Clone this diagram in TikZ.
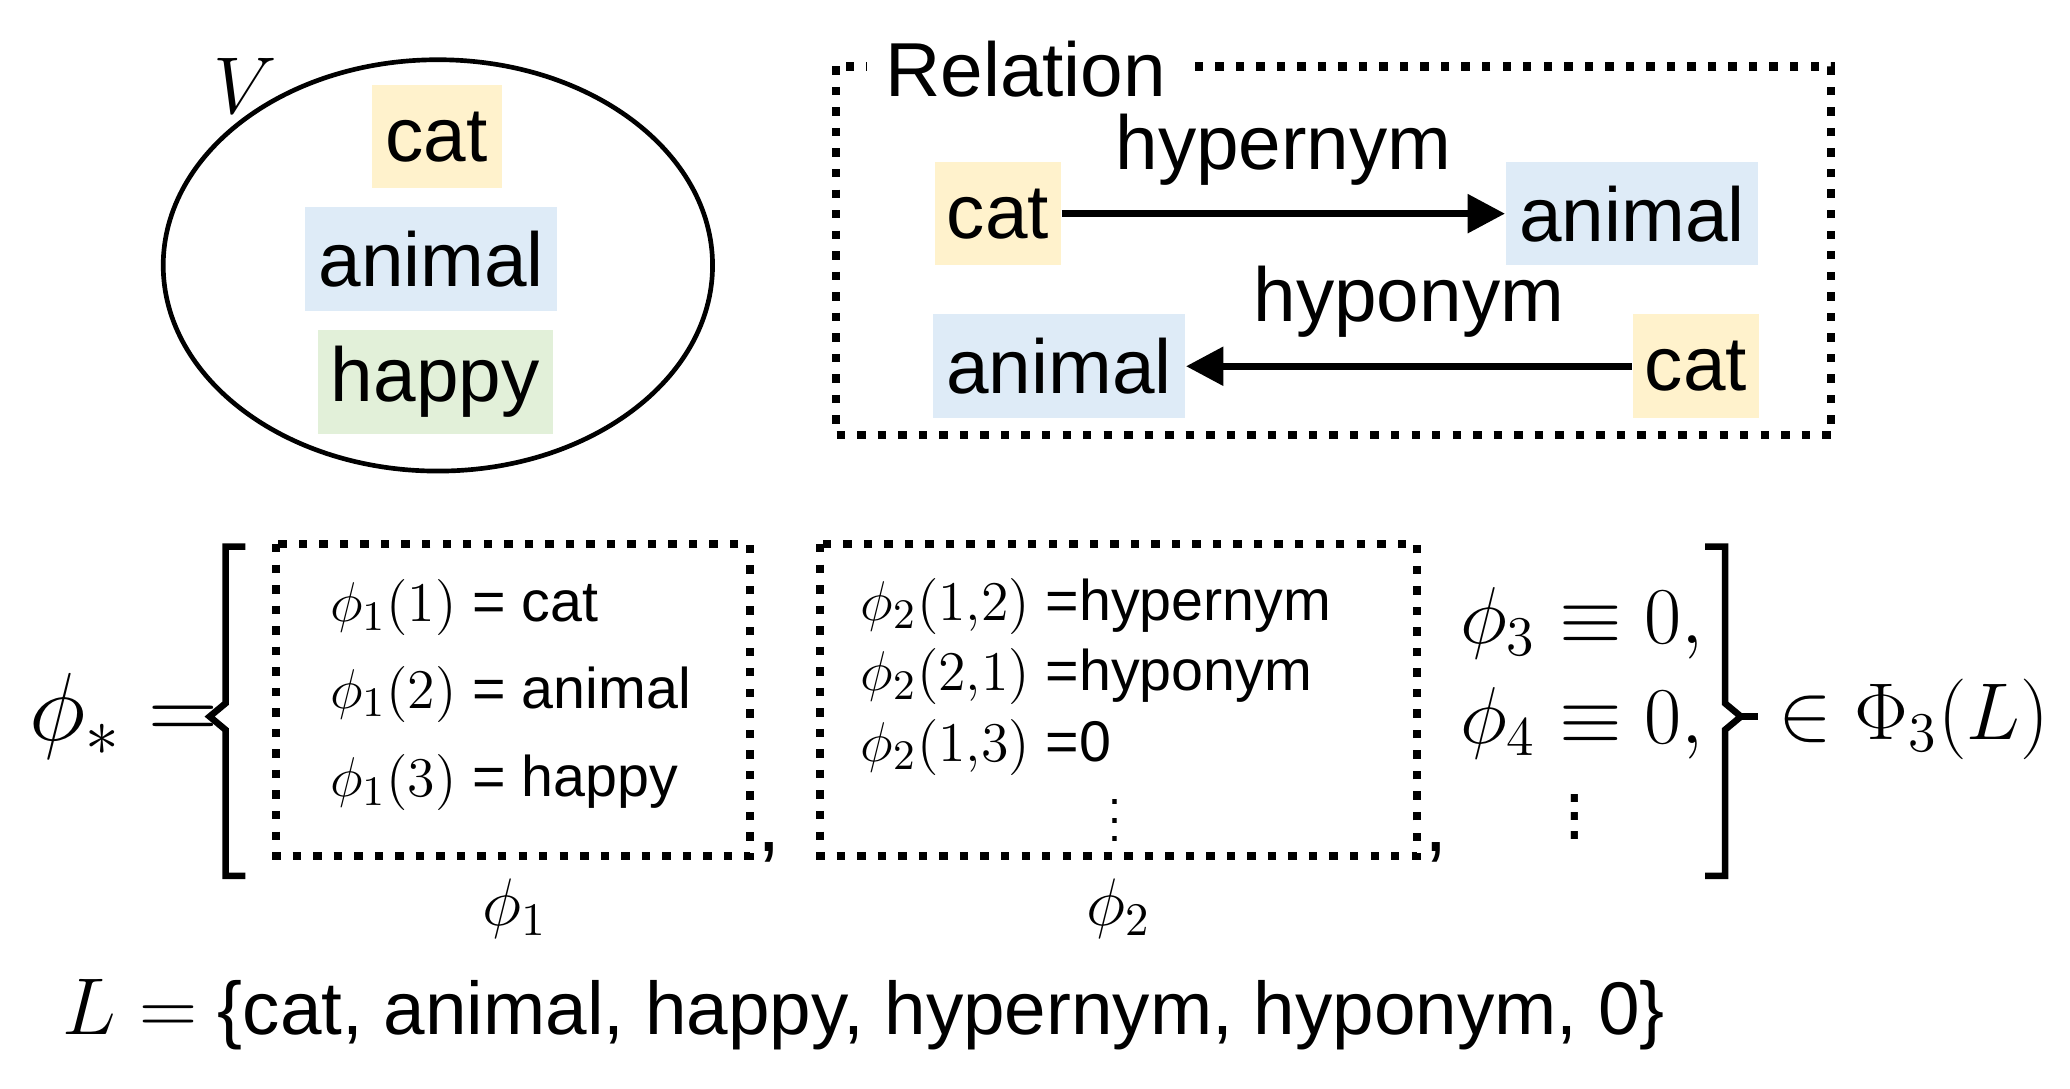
\documentclass[tikz,border=0pt]{standalone}
\usepackage{fontspec}
\setmainfont{Liberation Sans}
\usetikzlibrary{positioning,arrows.meta}
\definecolor{catcol}{HTML}{FFF2CC}
\definecolor{animalcol}{HTML}{DEEBF7}
\definecolor{happycol}{HTML}{E2F0D9}
\tikzset{
  word/.style={inner sep=0pt, minimum height=0.78cm, font=\fontsize{16.4}{18}\selectfont},
  dotbox/.style={line width=1.8pt, dash pattern=on 1.8pt off 2.6pt},
  rel/.style={line width=1.6pt, -{Triangle[length=8pt,width=8pt]}},
  entry/.style={anchor=west, inner sep=0pt, font=\fontsize{12.3}{14}\selectfont},
  brk/.style={line width=1.4pt}
}
\begin{document}
\begin{tikzpicture}[x=0.01cm,y=-0.01cm]
\useasboundingbox (0,0) rectangle (1560,820);
%%% vocabulary
\draw[line width=1pt] (330,200) ellipse (207 and 155);
\node at (185,65) {\fontsize{18}{20}\selectfont$V$};
\node[word, fill=catcol, minimum width=0.98cm] (vcat) at (329,103) {cat};
\node[word, fill=animalcol, minimum width=1.9cm] (vanimal) at (325,195) {animal};
\node[word, fill=happycol, minimum width=1.77cm] (vhappy) at (328,288) {happy};
%%% relation box
\draw[dotbox] (630,50) rectangle (1380,328);
\node[fill=white, inner xsep=4pt, font=\fontsize{16.4}{18}\selectfont] (reltitle) at (773,52) {Relation};
\node[word, fill=catcol, minimum width=0.95cm] (rcat1) at (752,161) {cat};
\node[word, fill=animalcol, minimum width=1.9cm] (ranimal1) at (1230,161) {animal};
\node[word, fill=animalcol, minimum width=1.9cm] (ranimal2) at (798,276) {animal};
\node[word, fill=catcol, minimum width=0.95cm] (rcat2) at (1278,276) {cat};
\draw[rel] (rcat1) -- node[above=2pt, font=\fontsize{16.4}{18}\selectfont] {hypernym} (ranimal1);
\draw[rel] (rcat2) -- node[above=2pt, font=\fontsize{16.4}{18}\selectfont] {hyponym} (ranimal2);
%%% phi_*
\node[anchor=west] (phistar) at (10,540) {\fontsize{20}{22}\selectfont$\phi_*=$};
\draw[brk] (185,412) -- (170,412) -- (170,530) -- (158,540) -- (170,550) -- (170,660) -- (185,660);
%% phi_1
\draw[dotbox] (208,410) rectangle (565,645);
\node[entry] (p11) at (248,458) {$\phi_1(1)$ = cat};
\node[entry] (p12) at (248,523) {$\phi_1(2)$ = animal};
\node[entry] (p13) at (248,590) {$\phi_1(3)$ = happy};
\node (c1) at (580,642) {\fontsize{18}{20}\selectfont,};
\node (lab1) at (388,685) {\fontsize{14}{16}\selectfont$\phi_1$};
%% phi_2
\draw[dotbox] (618,410) rectangle (1068,645);
\node[entry] (p21) at (648,457) {$\phi_2(1{,}2)$ =hypernym};
\node[entry] (p22) at (648,510) {$\phi_2(2{,}1)$ =hyponym};
\node[entry] (p23) at (648,563) {$\phi_2(1{,}3)$ =0};
\node (vd2) at (840,608) {\fontsize{10}{12}\selectfont$\vdots$};
\node (c2) at (1082,642) {\fontsize{18}{20}\selectfont,};
\node (lab2) at (843,685) {\fontsize{14}{16}\selectfont$\phi_2$};
%% rest
\node[anchor=west] (p3) at (1088,470) {\fontsize{18}{20}\selectfont$\phi_3\equiv0,$};
\node[anchor=west] (p4) at (1088,545) {\fontsize{18}{20}\selectfont$\phi_4\equiv0,$};
\node (vd3) at (1187,605) {\fontsize{16}{18}\selectfont$\vdots$};
\draw[brk] (1285,412) -- (1300,412) -- (1300,530) -- (1312,540) -- (1300,550) -- (1300,660) -- (1285,660);
\draw[brk] (1312,540) -- (1325,540);
\node[anchor=west] (inphi) at (1328,542) {\fontsize{18}{20}\selectfont$\in\Phi_3(L)$};
%%% label set
\node[anchor=west] (lset) at (35,765) {\fontsize{16}{18}\selectfont$L=$ \{cat, animal, happy, hypernym, hyponym, 0\}};
\end{tikzpicture}
\end{document}
